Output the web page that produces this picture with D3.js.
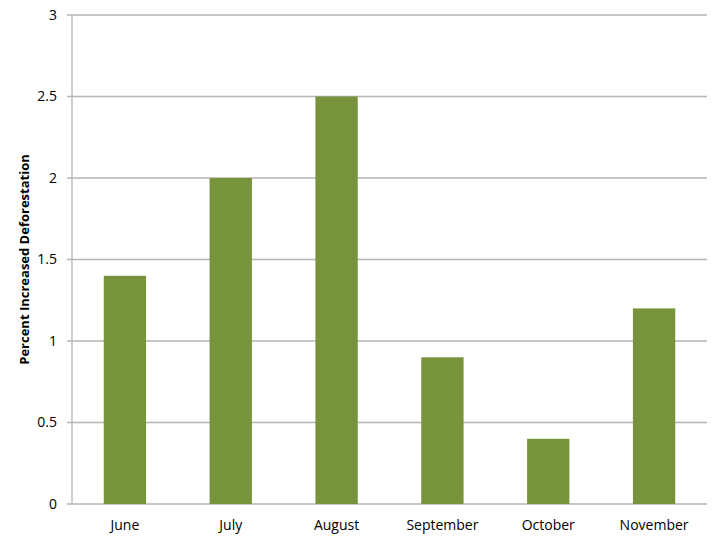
<!doctype html>
<meta charset="utf-8">
<style>
    body { margin: 0; background: #fff; }
    text { font-family: "Open Sans", "Liberation Sans", sans-serif; }
</style>
<body>
<script src="https://d3js.org/d3.v7.min.js"></script>
<script>
    const months = ['June', 'July', 'August', 'September', 'October', 'November'];
    const values = [1.4, 2.0, 2.5, 0.9, 0.4, 1.2];
    const yTicks = [0, 0.5, 1, 1.5, 2, 2.5, 3];
    const yTitle = 'Percent Increased Deforestation';

    const margin = {top: 15, right: 13, bottom: 36, left: 72};
    const width = 720 - margin.left - margin.right;
    const height = 540 - margin.top - margin.bottom;

    const x = d3.scaleBand().domain(months).range([0, width]).paddingInner(0.6).paddingOuter(0.3);
    const y = d3.scaleLinear().domain([0, 3]).range([height, 0]);

    const svg = d3.select('body')
        .append('svg')
        .attr('width', 720)
        .attr('height', 540)
        .append('g')
        .attr('transform', `translate(${margin.left}, ${margin.top})`);

    // gridlines
    svg.selectAll('.grid')
        .data(yTicks)
        .enter()
        .append('line')
        .attr('x1', -5)
        .attr('x2', width)
        .attr('y1', d => y(d))
        .attr('y2', d => y(d))
        .attr('stroke', '#b5b5b5')
        .attr('stroke-width', 1.3);

    // y axis line
    svg.append('line')
        .attr('x1', 0).attr('x2', 0)
        .attr('y1', 0).attr('y2', height)
        .attr('stroke', '#b5b5b5')
        .attr('stroke-width', 1.3);

    svg.selectAll('.ylab')
        .data(yTicks)
        .enter()
        .append('text')
        .attr('x', -15)
        .attr('y', d => y(d))
        .attr('dy', '0.35em')
        .attr('text-anchor', 'end')
        .attr('font-size', 14)
        .text(d => d);

    svg.selectAll('.bar')
        .data(values)
        .enter()
        .append('rect')
        .attr('x', (d, i) => x(months[i]))
        .attr('y', d => y(d))
        .attr('width', x.bandwidth())
        .attr('height', d => height - y(d))
        .attr('fill', '#77933c');

    svg.selectAll('.xlab')
        .data(months)
        .enter()
        .append('text')
        .attr('x', d => x(d) + x.bandwidth() / 2)
        .attr('y', height + 26)
        .attr('text-anchor', 'middle')
        .attr('font-size', 14)
        .text(d => d);

    svg.append('text')
        .attr('transform', `translate(${-43}, ${height / 2}) rotate(-90)`)
        .attr('text-anchor', 'middle')
        .attr('font-size', 13)
        .attr('font-weight', 'bold')
        .text(yTitle);
</script>
